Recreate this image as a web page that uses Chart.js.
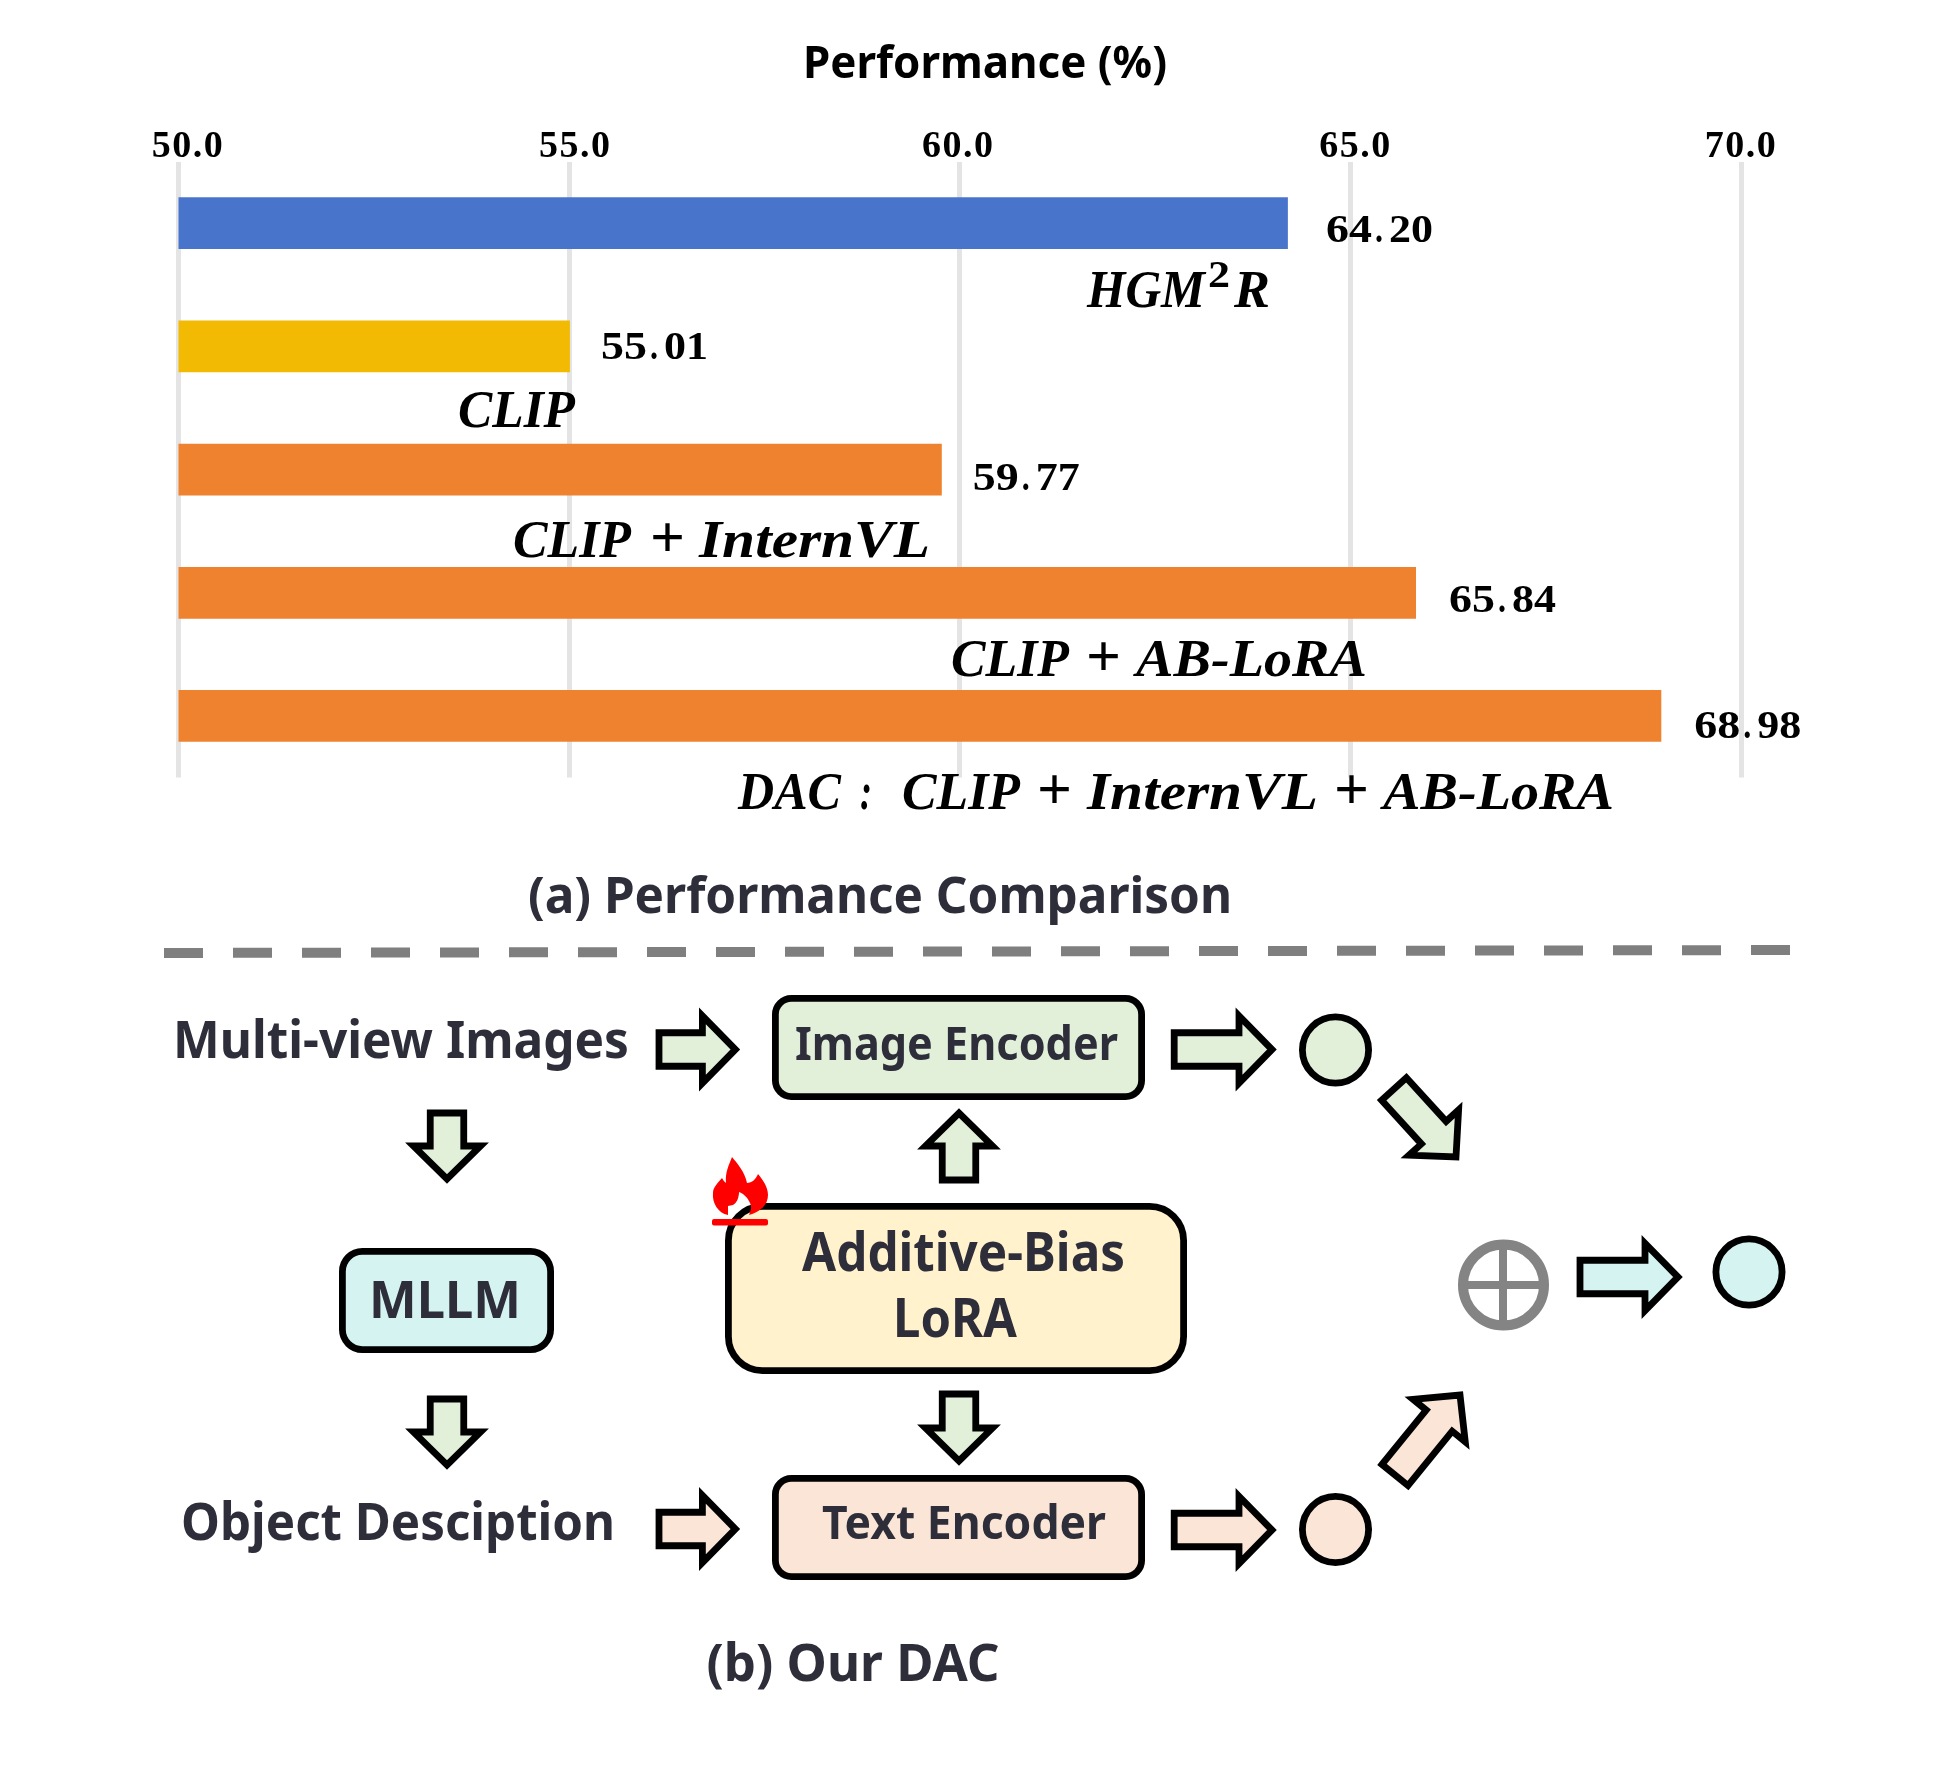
<!DOCTYPE html>
<html lang="en">
<head>
  <meta charset="UTF-8">
  <title>Performance Comparison and DAC</title>
  <style>
    body { margin: 0; background: #fff; }
    canvas { display: block; }
  </style>
  <script src="https://cdn.jsdelivr.net/npm/chart.js"></script>
</head>
<body>
  <canvas id="perfChart" width="1940" height="1784"></canvas>
  <script>
    // chart data
    const methods = ['HGM2R', 'CLIP', 'CLIP + InternVL', 'CLIP + AB-LoRA', 'DAC : CLIP + InternVL + AB-LoRA'];
    const performance = [64.20, 55.01, 59.77, 65.84, 68.98];
    const barColors = ['#4874cb', '#f2ba02', '#ee822f', '#ee822f', '#ee822f'];
    const xTicks = [50, 55, 60, 65, 70];

    const INK = '#2e2e3a';
    const GREEN = '#e2f0d9', CYAN = '#d4f3f1', YELLOW = '#fff2cc', PEACH = '#fbe5d6';
    const SANS = '"Noto Sans", "Open Sans", sans-serif';
    const SERIF = '"Liberation Serif", serif';
    const STROKE = 6.8;

    // draw text stretched to span a given width
    function fitText(ctx, text, x, baseline, width, font, color) {
      ctx.save();
      ctx.font = font;
      ctx.fillStyle = color;
      ctx.textAlign = 'left';
      ctx.textBaseline = 'alphabetic';
      const w = ctx.measureText(text).width;
      ctx.translate(x, baseline);
      ctx.scale(width / w, 1);
      ctx.fillText(text, 0, 0);
      ctx.restore();
    }

    function box(ctx, x0, y0, x1, y1, r, fill) {
      const s = STROKE / 2;
      ctx.beginPath();
      ctx.roundRect(x0 + s, y0 + s, x1 - x0 - STROKE, y1 - y0 - STROKE, r);
      ctx.fillStyle = fill;
      ctx.fill();
      ctx.lineWidth = STROKE;
      ctx.strokeStyle = '#000';
      ctx.stroke();
    }

    function circle(ctx, cx, cy, r, fill) {
      ctx.beginPath();
      ctx.arc(cx, cy, r, 0, Math.PI * 2);
      ctx.fillStyle = fill;
      ctx.fill();
      ctx.lineWidth = STROKE;
      ctx.strokeStyle = '#000';
      ctx.stroke();
    }

    // block arrow from tail to tip
    function arrow(ctx, tx, ty, hx, hy, fill, shaft = 16.75, head = 33.6, headLen = 33) {
      const len = Math.hypot(hx - tx, hy - ty);
      ctx.save();
      ctx.translate(tx, ty);
      ctx.rotate(Math.atan2(hy - ty, hx - tx));
      ctx.beginPath();
      ctx.moveTo(0, -shaft);
      ctx.lineTo(len - headLen, -shaft);
      ctx.lineTo(len - headLen, -head);
      ctx.lineTo(len, 0);
      ctx.lineTo(len - headLen, head);
      ctx.lineTo(len - headLen, shaft);
      ctx.lineTo(0, shaft);
      ctx.closePath();
      ctx.fillStyle = fill;
      ctx.fill();
      ctx.lineWidth = STROKE;
      ctx.lineJoin = 'miter';
      ctx.miterLimit = 10;
      ctx.strokeStyle = '#000';
      ctx.stroke();
      ctx.restore();
    }

    function flame(ctx) {
      ctx.fillStyle = '#ff0000';
      ctx.beginPath();
      ctx.moveTo(732, 1157);
      ctx.bezierCurveTo(737, 1163, 745, 1172, 747, 1183);
      ctx.bezierCurveTo(752, 1183, 756, 1179, 758, 1174);
      ctx.bezierCurveTo(763, 1180, 768, 1187, 768, 1195);
      ctx.bezierCurveTo(768, 1205, 760, 1212, 749, 1215);
      ctx.bezierCurveTo(751, 1210, 752, 1207, 750, 1203);
      ctx.bezierCurveTo(748, 1198, 744, 1194, 739, 1192);
      ctx.bezierCurveTo(739, 1197, 737, 1203, 733, 1205);
      ctx.lineTo(728, 1206);
      ctx.lineTo(728, 1215);
      ctx.bezierCurveTo(718, 1213, 712, 1203, 713, 1193);
      ctx.bezierCurveTo(713, 1187, 718, 1183, 722, 1178);
      ctx.quadraticCurveTo(724, 1182, 726, 1183);
      ctx.bezierCurveTo(725, 1172, 729, 1165, 732, 1157);
      ctx.closePath();
      ctx.fill();
      ctx.beginPath();
      ctx.roundRect(712, 1219, 56, 6.5, 2);
      ctx.fill();
    }

    // method name made of italic parts and upright plus signs
    function mathLabel(ctx, parts, baseline) {
      parts.forEach(([text, x, width]) => {
        if (text === '+') {
          fitText(ctx, '+', x, baseline, width, 'bold 60px ' + SERIF, '#000');
        } else {
          fitText(ctx, text, x, baseline, width, 'italic bold 52px ' + SERIF, '#000');
        }
      });
    }

    // data labels next to the bars, method names under them
    const barText = {
      id: 'barText',
      afterDatasetsDraw(chart) {
        const ctx = chart.ctx;
        const bars = chart.getDatasetMeta(0).data;
        const gaps = [38, 31, 31, 33, 33];
        const drops = [6, 0, 7, 6, 9];
        const font = 'bold 41px ' + SERIF;
        bars.forEach((bar, i) => {
          const [whole, dec] = performance[i].toFixed(2).split('.');
          const x = bar.x + gaps[i], base = bar.y + drops[i] + 13;
          fitText(ctx, whole, x, base, 46, font, '#000');
          fitText(ctx, '.', x + 49, base, 8, font, '#000');
          fitText(ctx, dec, x + 63, base, 44, font, '#000');
        });
        fitText(ctx, 'HGM', 1087, 307, 118, 'italic bold 52px ' + SERIF, '#000');
        fitText(ctx, '2', 1208, 287, 22, 'bold 38px ' + SERIF, '#000');
        fitText(ctx, 'R', 1234, 307, 36, 'italic bold 52px ' + SERIF, '#000');
        mathLabel(ctx, [['CLIP', 458, 117]], 427);
        mathLabel(ctx, [['CLIP', 513, 118], ['+', 650, 35], ['InternVL', 699, 231]], 557);
        mathLabel(ctx, [['CLIP', 951, 118], ['+', 1086, 35], ['AB-LoRA', 1136, 231]], 676);
        mathLabel(ctx, [['DAC', 738, 103], [':', 860, 12], ['CLIP', 902, 118], ['+', 1037, 35],
          ['InternVL', 1087, 231], ['+', 1334, 35], ['AB-LoRA', 1383, 231]], 809);
        fitText(ctx, 'Performance (%)', 803, 78, 364, 'bold 45px ' + SANS, '#000');
      }
    };

    // lower panel
    const diagram = {
      id: 'diagram',
      afterDraw(chart) {
        const ctx = chart.ctx;
        ctx.save();
        fitText(ctx, '(a) Performance Comparison', 528, 913, 704, 'bold 50px ' + SANS, INK);

        ctx.beginPath();
        ctx.moveTo(164, 953);
        ctx.lineTo(1792, 950);
        ctx.lineWidth = 10;
        ctx.strokeStyle = '#7f7f7f';
        ctx.setLineDash([39, 30]);
        ctx.stroke();
        ctx.setLineDash([]);

        box(ctx, 772, 995, 1145, 1100, 16, GREEN);
        box(ctx, 339, 1248, 554, 1353, 20, CYAN);
        box(ctx, 725, 1203, 1187, 1374, 34, YELLOW);
        box(ctx, 772, 1475, 1145, 1580, 16, PEACH);

        arrow(ctx, 659, 1049.5, 735.4, 1049.5, GREEN);
        arrow(ctx, 1174.2, 1049.5, 1272, 1049.5, GREEN);
        arrow(ctx, 447, 1113, 447, 1179, GREEN);
        arrow(ctx, 447, 1399, 447, 1465, GREEN);
        arrow(ctx, 959, 1180, 959, 1113, GREEN);
        arrow(ctx, 959, 1394, 959, 1461, GREEN);
        arrow(ctx, 1394, 1089, 1456, 1157, GREEN);
        arrow(ctx, 659, 1529, 735.4, 1529, PEACH);
        arrow(ctx, 1174.2, 1530, 1272, 1530, PEACH);
        arrow(ctx, 1395, 1475, 1460, 1395, PEACH);
        arrow(ctx, 1580, 1277, 1678, 1277, CYAN);

        circle(ctx, 1335.5, 1050, 33.1, GREEN);
        circle(ctx, 1335.5, 1529.5, 33.1, PEACH);
        circle(ctx, 1749, 1272, 33.1, CYAN);

        // add symbol
        ctx.strokeStyle = '#848484';
        ctx.lineWidth = 10;
        ctx.beginPath();
        ctx.arc(1503.5, 1285, 40.5, 0, Math.PI * 2);
        ctx.stroke();
        ctx.lineWidth = 8;
        ctx.beginPath();
        ctx.moveTo(1503, 1245);
        ctx.lineTo(1503, 1325);
        ctx.moveTo(1463, 1285);
        ctx.lineTo(1544, 1285);
        ctx.stroke();

        flame(ctx);

        fitText(ctx, 'Multi-view Images', 173, 1058, 456, 'bold 52px ' + SANS, INK);
        fitText(ctx, 'Image Encoder', 795, 1060, 323, 'bold 46px ' + SANS, INK);
        fitText(ctx, 'MLLM', 369, 1318, 152, 'bold 52px ' + SANS, INK);
        fitText(ctx, 'Additive-Bias', 802, 1271, 323, 'bold 53px ' + SANS, INK);
        fitText(ctx, 'LoRA', 893, 1337, 124, 'bold 53px ' + SANS, INK);
        fitText(ctx, 'Object Desciption', 181, 1540, 434, 'bold 52px ' + SANS, INK);
        fitText(ctx, 'Text Encoder', 822, 1539, 284, 'bold 46px ' + SANS, INK);
        fitText(ctx, '(b) Our DAC', 706.5, 1681, 293, 'bold 52px ' + SANS, INK);
        ctx.restore();
      }
    };

    // tick label spacing and small per-tick shifts seen in the reference
    const tickNudge = [9.5, 6, -1.5, 5, 0];
    const tickStyle = {
      id: 'tickStyle',
      beforeDraw(chart) {
        chart.scales.x.getLabelItems().forEach((item, i) => {
          if (!item.nudged) {
            item.options.translation[0] += tickNudge[i];
            item.nudged = true;
          }
        });
        chart.ctx.letterSpacing = '1.5px';
      },
      beforeDatasetsDraw(chart) {
        chart.ctx.letterSpacing = '0px';
      }
    };

    new Chart(document.getElementById('perfChart'), {
      type: 'bar',
      data: {
        labels: methods,
        datasets: [{
          data: performance,
          backgroundColor: barColors,
          barPercentage: 0.42,
          categoryPercentage: 1
        }]
      },
      options: {
        indexAxis: 'y',
        responsive: false,
        animation: false,
        layout: { padding: { left: 178.5, right: 199, top: 0, bottom: 1006.4 } },
        plugins: { legend: { display: false }, tooltip: { enabled: false } },
        scales: {
          x: {
            position: 'top',
            min: 50,
            max: 70,
            afterFit(scale) { scale.height = 161.5; },
            afterBuildTicks(scale) { scale.ticks = xTicks.map(v => ({ value: v })); },
            border: { display: false },
            grid: { color: '#e4e4e4', lineWidth: 5, drawTicks: false },
            ticks: {
              maxRotation: 0,
              padding: -8.5,
              color: '#000',
              font: { family: 'Liberation Serif', weight: 'bold', size: 38 },
              callback: v => v.toFixed(1)
            }
          },
          y: { display: false }
        }
      },
      plugins: [tickStyle, barText, diagram]
    });
  </script>
</body>
</html>
